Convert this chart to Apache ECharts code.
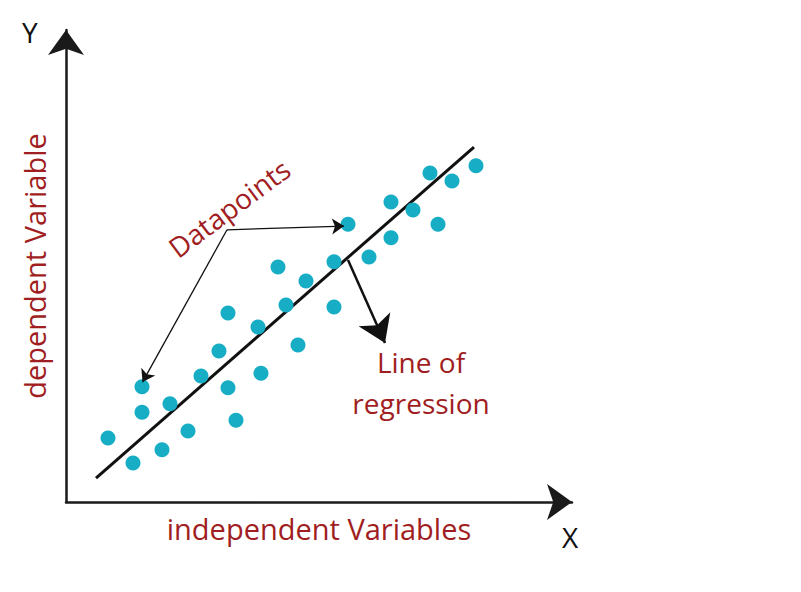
<!DOCTYPE html>
<html>
<head>
<meta charset="utf-8">
<script src="https://cdn.jsdelivr.net/npm/echarts@6/dist/echarts.min.js"></script>
<style>html,body{margin:0;padding:0;background:#fff}#c{width:801px;height:592px}</style>
</head>
<body>
<div id="c"></div>
<script>
// Data (arbitrary units)
const pointsX = [8.4, 13.4, 15.2, 15.2, 19.2, 20.8, 24.4, 27.0, 30.6, 32.4, 32.4, 34.0, 38.4, 39.0, 42.4, 44.0, 46.4, 48.0, 53.6, 53.6, 56.4, 60.6, 65.0, 65.0, 69.4, 72.8, 74.4, 77.2, 82.0];
const pointsY = [13.6, 8.3, 24.5, 19.1, 11.1, 20.9, 15.1, 26.8, 32.1, 40.2, 24.3, 17.4, 37.2, 27.4, 50.0, 41.9, 33.4, 47.0, 51.1, 41.5, 59.1, 52.1, 56.2, 63.8, 62.1, 70.0, 59.1, 68.3, 71.5];
const regressionX = [6.0, 81.6];
const regressionY = [5.1, 75.5];
// "Datapoints" callout: shared corner, then the two pointed ends
const calloutCornerX = 32.2, calloutCornerY = 57.9;
const calloutEndsX = [15.3, 55.6];
const calloutEndsY = [25.5, 58.7];
const regArrowX = [56.4, 63.8];
const regArrowY = [51.5, 33.8];
const xAxisTitle = 'independent Variables';
const yAxisTitle = 'dependent Variable';

const RED = '#A01E22';
const TEAL = '#17AEC5';
const FONT = 'Open Sans';

const chart = echarts.init(document.getElementById('c'), null, {renderer: 'svg'});
chart.setOption({
  animation: false,
  backgroundColor: '#fff',
  grid: {left: 66, top: 30, width: 506, height: 472},
  xAxis: {
    type: 'value', min: 0, max: 101.2,
    name: xAxisTitle, nameLocation: 'middle', nameGap: 12,
    nameTextStyle: {color: RED, fontSize: 29, fontFamily: FONT},
    axisLine: {show: true, symbol: ['none', 'arrow'], symbolSize: [27, 25],
      lineStyle: {color: '#1a1a1a', width: 2.5}},
    axisTick: {show: false}, axisLabel: {show: false}, splitLine: {show: false}
  },
  yAxis: {
    type: 'value', min: 0, max: 100.4,
    name: yAxisTitle, nameLocation: 'middle', nameGap: 17, nameRotate: 90,
    nameTextStyle: {color: RED, fontSize: 29, fontFamily: FONT},
    axisLine: {show: true, symbol: ['none', 'arrow'], symbolSize: [27, 25],
      lineStyle: {color: '#1a1a1a', width: 2.5}},
    axisTick: {show: false}, axisLabel: {show: false}, splitLine: {show: false}
  },
  series: [
    {
      type: 'line', name: 'regression',
      data: regressionX.map((x, i) => [x, regressionY[i]]),
      symbol: 'none', lineStyle: {color: '#111', width: 3}, z: 2
    },
    {
      type: 'scatter', name: 'points',
      data: pointsX.map((x, i) => [x, pointsY[i]]),
      symbolSize: 15, itemStyle: {color: TEAL, opacity: 1}, z: 3
    },
    {
      type: 'lines', coordinateSystem: 'cartesian2d',
      symbol: ['none', 'arrow'], symbolSize: 12,
      lineStyle: {color: '#111', width: 1.3, opacity: 1},
      data: calloutEndsX.map((x, i) => ({coords: [[calloutCornerX, calloutCornerY], [x, calloutEndsY[i]]]})),
      z: 4
    },
    {
      type: 'lines', coordinateSystem: 'cartesian2d',
      symbol: ['none', 'arrow'], symbolSize: 26,
      lineStyle: {color: '#111', width: 2.5, opacity: 1},
      data: [{coords: regArrowX.map((x, i) => [x, regArrowY[i]])}], z: 4
    }
  ],
  graphic: [
    {type: 'text', left: 22, top: 18, style: {text: 'Y', fill: '#111', font: '28px "Open Sans"'}},
    {type: 'text', left: 562, top: 523, style: {text: 'X', fill: '#111', font: '28px "Open Sans"'}},
    {type: 'text', x: 229, y: 208, rotation: 0.64,
      style: {text: 'Datapoints', fill: RED, font: '28px "Open Sans"', align: 'center', verticalAlign: 'middle'}},
    {type: 'text', x: 421, y: 382,
      style: {text: 'Line of\nregression', fill: RED, font: '28px "Open Sans"', align: 'center', verticalAlign: 'middle', lineHeight: 41}}
  ]
});
</script>
</body>
</html>
